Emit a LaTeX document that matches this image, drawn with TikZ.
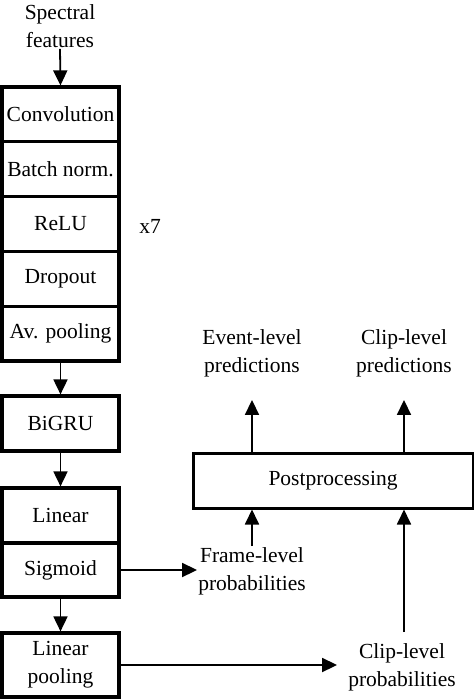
\documentclass[tikz,border=0pt]{standalone}
\usepackage{fontspec}
\setmainfont{Liberation Serif}
\usetikzlibrary{arrows.meta}
\begin{document}
\begin{tikzpicture}[x=1pt,y=-1pt,
  every node/.style={font=\fontsize{21.5}{28}\selectfont},
  cell/.style={draw,line width=3.2pt,minimum width=117pt,inner sep=0pt,align=center},
  lbl/.style={align=center,inner sep=1pt},
  arr/.style={line width=1.8pt,-{Triangle[width=14pt,length=15pt]}}]
\useasboundingbox (0,0) rectangle (474,699);
\node[lbl] (spec) at (60,26) {Spectral\\features};
\node[cell,minimum height=54.8pt] (conv) at (60.5,114.4) {Convolution};
\node[cell,minimum height=54.8pt] (bn) at (60.5,169.2) {Batch norm.};
\node[cell,minimum height=54.8pt] (relu) at (60.5,224) {ReLU};
\node[cell,minimum height=54.8pt] (drop) at (60.5,278.8) {Dropout};
\node[cell,minimum height=54.8pt] (avp) at (60.5,333.6) {Av. pooling};
\node[lbl] (x7) at (150,226) {x7};
\node[cell,minimum height=55pt] (gru) at (60.5,423.5) {BiGRU};
\node[cell,minimum height=55pt] (lin) at (60.5,515.5) {Linear};
\node[cell,minimum height=54pt] (sig) at (60.5,570) {Sigmoid};
\node[cell,minimum height=64pt] (lpool) at (60.5,665) {Linear\\pooling};
\node[draw,line width=3pt,minimum width=280pt,minimum height=55pt,inner sep=0pt] (post) at (333,480.5) {Postprocessing};
\node[lbl] (frame) at (252,571) {Frame-level\\probabilities};
\node[lbl] (clipprob) at (402,667) {Clip-level\\probabilities};
\node[lbl] (event) at (252,353) {Event-level\\predictions};
\node[lbl] (clippred) at (404,353) {Clip-level\\predictions};
\draw[arr] (spec.south) -- (conv.north);
\draw[arr] (avp.south) -- (gru.north);
\draw[arr] (gru.south) -- (lin.north);
\draw[arr] (sig.south) -- (lpool.north);
\draw[arr] (sig.east) -- (sig.east -| frame.west);
\draw[arr,shorten >=10pt] (lpool.east) -- (lpool.east -| clipprob.west);
\draw[arr] (frame.north) -- (frame.north |- post.south);
\draw[arr,shorten <=10pt] (clipprob.north -| clippred.south) -- (clippred.south |- post.south);
\draw[arr,shorten >=22pt] (event.south |- post.north) -- (event.south);
\draw[arr,shorten >=22pt] (clippred.south |- post.north) -- (clippred.south);
\end{tikzpicture}
\end{document}
